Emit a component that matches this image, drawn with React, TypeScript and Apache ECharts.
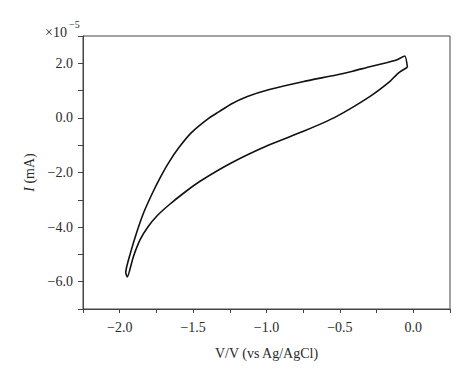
import React, { useEffect, useRef } from "react";
import * as echarts from "echarts";

// Cyclic voltammogram, potential in V vs Ag/AgCl, current in units of 1e-5 mA
const potential: number[] = [
  -0.040, -0.058, -0.115, -0.183, -0.297, -0.413, -0.525, -0.753, -0.980, -1.130,
  -1.240, -1.322, -1.390, -1.513, -1.598, -1.667, -1.725, -1.776, -1.837, -1.885,
  -1.926, -1.959, -1.948, -1.909, -1.861, -1.807, -1.745, -1.663, -1.561, -1.458,
  -1.231, -0.980, -0.753, -0.525, -0.297, -0.161, -0.104, -0.040,
];
const current: number[] = [
  1.854, 2.267, 2.121, 2.02, 1.876, 1.71, 1.572, 1.327, 1.042, 0.786,
  0.512, 0.23, 0.0, -0.548, -1.097, -1.645, -2.194, -2.742, -3.473, -4.205,
  -4.936, -5.667, -5.825, -5.119, -4.461, -3.985, -3.583, -3.181, -2.742, -2.34,
  -1.627, -0.987, -0.501, 0.048, 0.779, 1.327, 1.634, 1.854,
];
const xLabels: number[] = [-2.0, -1.5, -1.0, -0.5, 0.0];
const yLabels: number[] = [-6, -4, -2, 0, 2];

const FONT = "'Liberation Serif', 'DejaVu Serif', serif";
const TXT = "#2a2a2a";
const AX = "#444";

const fmt = (v: number) => {
  const s = Math.abs(v).toFixed(1);
  return v < -1e-9 ? "\u2212" + s : s;
};
const near = (arr: number[], v: number) => arr.some((a) => Math.abs(a - v) < 1e-6);

export default function App() {
  const ref = useRef<HTMLDivElement>(null);
  useEffect(() => {
    document.body.style.margin = "0";
    if (!ref.current) return;
    const chart = echarts.init(ref.current, null, { renderer: "svg" });
    const data = potential.map((p, i) => [p, current[i]]);
    chart.setOption({
      animation: false,
      backgroundColor: "#fff",
      grid: {
        left: 83,
        right: 24,
        top: 36,
        bottom: 72,
        show: true,
        borderColor: AX,
        borderWidth: 1,
        containLabel: false,
      },
      xAxis: {
        type: "value",
        min: -2.25,
        max: 0.25,
        interval: 0.25,
        axisLine: { show: true, onZero: false, lineStyle: { color: AX, width: 1 } },
        axisTick: { show: true, length: 4, lineStyle: { color: AX } },
        splitLine: { show: false },
        axisLabel: {
          margin: 11,
          color: TXT,
          fontFamily: FONT,
          fontSize: 14,
          formatter: (v: number) => (near(xLabels, v) ? fmt(v) : ""),
        },
        name: "V/V (vs Ag/AgCl)",
        nameLocation: "middle",
        nameGap: 37,
        nameTextStyle: { color: TXT, fontFamily: FONT, fontSize: 14 },
      },
      yAxis: {
        type: "value",
        min: -7,
        max: 3,
        interval: 1,
        axisLine: { show: true, onZero: false, lineStyle: { color: AX, width: 1 } },
        axisTick: { show: true, length: 5, lineStyle: { color: AX } },
        splitLine: { show: false },
        axisLabel: {
          margin: 10,
          color: TXT,
          fontFamily: FONT,
          fontSize: 14,
          formatter: (v: number) => (near(yLabels, v) ? fmt(v) : ""),
        },
        name: "{i|I} (mA)",
        nameLocation: "middle",
        nameGap: 47,
        nameRotate: 90,
        nameTextStyle: {
          color: TXT,
          fontFamily: FONT,
          fontSize: 14,
          rich: {
            i: { fontStyle: "italic", fontFamily: FONT, fontSize: 14, color: TXT },
          },
        },
      },
      graphic: [
        {
          type: "text",
          left: 45,
          top: 25,
          style: { text: "×10", fill: TXT, font: `14px ${FONT}` },
        },
        {
          type: "text",
          left: 69,
          top: 19,
          style: { text: "\u22125", fill: TXT, font: `10px ${FONT}` },
        },
      ],
      series: [
        {
          type: "line",
          data,
          showSymbol: false,
          smooth: 0.2,
          lineStyle: { color: "#111", width: 1.6 },
          itemStyle: { color: "#111" },
        },
      ],
    });
    return () => chart.dispose();
  }, []);
  return <div ref={ref} style={{ width: 474, height: 381 }} />;
}
